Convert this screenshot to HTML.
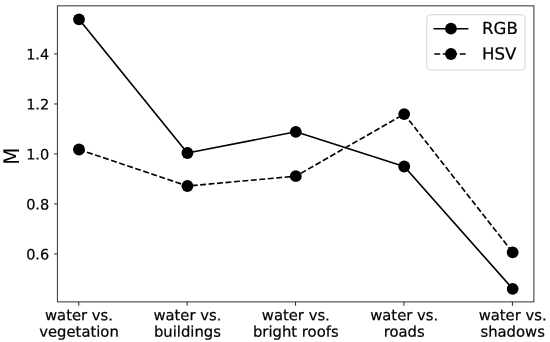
<!DOCTYPE html>
<html><head><meta charset="utf-8"><title>M comparison chart</title><style>
html,body{margin:0;padding:0;background:#fff;width:550px;height:342px;overflow:hidden}
svg{display:block;text-rendering:geometricPrecision}
</style></head><body>
<svg width="550" height="342" viewBox="0 0 550 342">
<rect width="550" height="342" fill="#fff"/>
<polyline points="79.0,19.3 187.4,153.0 295.8,131.8 404.2,166.5 512.65,288.8" fill="none" stroke="#000" stroke-width="1.65" stroke-linejoin="round"/>
<polyline points="79.0,149.5 187.4,186.0 295.8,176.2 404.2,114.1 512.65,252.3" fill="none" stroke="#000" stroke-width="1.65" stroke-dasharray="5.92 2.56" stroke-linejoin="round"/>
<circle cx="79.0" cy="19.3" r="5.9"/>
<circle cx="187.4" cy="153.0" r="5.9"/>
<circle cx="295.8" cy="131.8" r="5.9"/>
<circle cx="404.2" cy="166.5" r="5.9"/>
<circle cx="512.65" cy="288.8" r="5.9"/>
<circle cx="79.0" cy="149.5" r="5.9"/>
<circle cx="187.4" cy="186.0" r="5.9"/>
<circle cx="295.8" cy="176.2" r="5.9"/>
<circle cx="404.2" cy="114.1" r="5.9"/>
<circle cx="512.65" cy="252.3" r="5.9"/>
<rect x="57.45" y="5.8" width="476.40" height="296.05" fill="none" stroke="#4a4a4a" stroke-width="1.15"/>
<path d="M54.05 253.95H57.45M54.05 203.95H57.45M54.05 153.95H57.45M54.05 103.95H57.45M54.05 53.95H57.45M78.75 301.85V305.75M187.15 301.85V305.75M295.55 301.85V305.75M403.95 301.85V305.75M512.40 301.85V305.75" stroke="#2a2a2a" stroke-width="1.0"/>
<g font-family="DejaVu Sans, Liberation Sans, sans-serif" fill="#000" stroke="#000" stroke-width="0.22" font-size="14.5">
<text transform="translate(49.20 259.50) rotate(0.05)" text-anchor="end">0.6</text>
<text transform="translate(49.20 209.50) rotate(0.05)" text-anchor="end">0.8</text>
<text transform="translate(49.20 159.50) rotate(0.05)" text-anchor="end">1.0</text>
<text transform="translate(49.20 109.50) rotate(0.05)" text-anchor="end">1.2</text>
<text transform="translate(49.20 59.50) rotate(0.05)" text-anchor="end">1.4</text>
</g>
<g font-family="DejaVu Sans, Liberation Sans, sans-serif" fill="#000" stroke="#000" stroke-width="0.22" font-size="14.8">
<text transform="translate(79.00 320.35) rotate(0.05)" text-anchor="middle">water vs.</text>
<text transform="translate(79.00 336.70) rotate(0.05)" text-anchor="middle">vegetation</text>
<text transform="translate(187.40 320.35) rotate(0.05)" text-anchor="middle">water vs.</text>
<text transform="translate(187.40 336.70) rotate(0.05)" text-anchor="middle">buildings</text>
<text transform="translate(295.80 320.35) rotate(0.05)" text-anchor="middle">water vs.</text>
<text transform="translate(295.80 336.70) rotate(0.05)" text-anchor="middle">bright roofs</text>
<text transform="translate(404.20 320.35) rotate(0.05)" text-anchor="middle">water vs.</text>
<text transform="translate(404.20 336.70) rotate(0.05)" text-anchor="middle">roads</text>
<text transform="translate(512.65 320.35) rotate(0.05)" text-anchor="middle">water vs.</text>
<text transform="translate(512.65 336.70) rotate(0.05)" text-anchor="middle">shadows</text>
</g>
<g font-family="DejaVu Sans, Liberation Sans, sans-serif" fill="#000" font-size="21.4"><text transform="translate(18.8 156.25) rotate(-90) scale(0.93 1)" text-anchor="middle">M</text></g>
<rect x="426.8" y="14.7" width="98.30" height="55.30" rx="3" ry="3" fill="#fff" fill-opacity="0.8" stroke="#d6d6d6" stroke-width="1"/>
<path d="M434.3 28.7H467.6" stroke="#000" stroke-width="1.65" stroke-linecap="square"/>
<path d="M434.3 54.0H467.6" stroke="#000" stroke-width="1.65" stroke-dasharray="5.92 2.56"/>
<circle cx="450.95" cy="28.7" r="5.9"/>
<circle cx="450.95" cy="54.0" r="5.9"/>
<g font-family="DejaVu Sans, Liberation Sans, sans-serif" fill="#000" stroke="#000" stroke-width="0.22" font-size="16.6">
<text transform="translate(482.00 34.05) rotate(0.05)">RGB</text>
<text transform="translate(482.00 59.45) rotate(0.05)">HSV</text>
</g>
</svg>
</body></html>
